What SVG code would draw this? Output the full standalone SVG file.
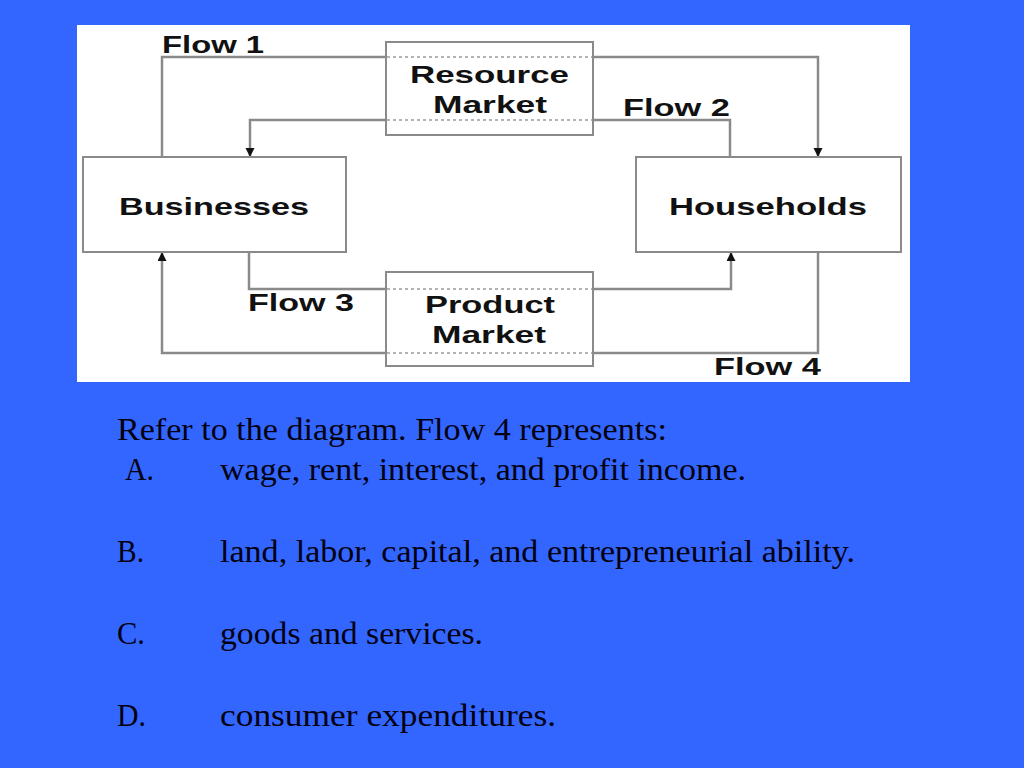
<svg xmlns="http://www.w3.org/2000/svg" width="1024" height="768" viewBox="0 0 1024 768">
<style>
.box{fill:#fff;stroke:#8a8a8a;stroke-width:2}
.dash{stroke:#9a9a9a;stroke-width:1.5;stroke-dasharray:3 3;fill:none}
.conn{fill:none;stroke:#8a8a8a;stroke-width:2.5}
.lbl{font-family:"Liberation Sans",Arial,sans-serif;font-weight:bold;font-size:24px;fill:#111}
.q{font-family:"Liberation Serif","Times New Roman",serif;font-size:32px;fill:#000010}
</style>
<defs>
<marker id="arr" markerUnits="userSpaceOnUse" markerWidth="10" markerHeight="10" refX="9" refY="4.5" orient="auto">
<path d="M0,0 L9,4.5 L0,9 z" fill="#111"/>
</marker>
</defs>
<rect x="0" y="0" width="1024" height="768" fill="#3366ff"/>
<rect x="77" y="25" width="833" height="357" fill="#fff"/>
<g id="connectors">
<path class="conn" d="M162,157 V57 H386"/>
<path class="conn" d="M593,57 H818 V157" marker-end="url(#arr)"/>
<path class="conn" d="M730,157 V120 H593"/>
<path class="conn" d="M386,120 H250 V157" marker-end="url(#arr)"/>
<path class="conn" d="M249,252 V289 H386"/>
<path class="conn" d="M593,289 H731 V252" marker-end="url(#arr)"/>
<path class="conn" d="M818,252 V353 H593"/>
<path class="conn" d="M386,353 H162 V252" marker-end="url(#arr)"/>
<text class="lbl" x="162" y="53" textLength="102" lengthAdjust="spacingAndGlyphs">Flow 1</text>
<text class="lbl" x="623" y="116" textLength="107" lengthAdjust="spacingAndGlyphs">Flow 2</text>
<text class="lbl" x="248" y="311" textLength="106" lengthAdjust="spacingAndGlyphs">Flow 3</text>
<text class="lbl" x="714" y="375" textLength="107" lengthAdjust="spacingAndGlyphs">Flow 4</text>
</g>
<g id="resource-market">
<rect class="box" x="386" y="42" width="207" height="93"/>
<line class="dash" x1="387" y1="57" x2="592" y2="57"/>
<line class="dash" x1="387" y1="120" x2="592" y2="120"/>
<text class="lbl" x="410" y="83" textLength="159" lengthAdjust="spacingAndGlyphs">Resource</text>
<text class="lbl" x="433" y="113" textLength="114" lengthAdjust="spacingAndGlyphs">Market</text>
</g>
<g id="businesses">
<rect class="box" x="83" y="157" width="263" height="95"/>
<text class="lbl" x="119" y="215" textLength="190" lengthAdjust="spacingAndGlyphs">Businesses</text>
</g>
<g id="households">
<rect class="box" x="636" y="157" width="265" height="95"/>
<text class="lbl" x="669" y="215" textLength="198" lengthAdjust="spacingAndGlyphs">Households</text>
</g>
<g id="product-market">
<rect class="box" x="386" y="272" width="207" height="94"/>
<line class="dash" x1="387" y1="289" x2="592" y2="289"/>
<line class="dash" x1="387" y1="353" x2="592" y2="353"/>
<text class="lbl" x="425" y="313" textLength="130" lengthAdjust="spacingAndGlyphs">Product</text>
<text class="lbl" x="432" y="343" textLength="114" lengthAdjust="spacingAndGlyphs">Market</text>
</g>
<g id="question">
<text class="q" x="117" y="440" textLength="550" lengthAdjust="spacingAndGlyphs">Refer to the diagram. Flow 4 represents:</text>
<text class="q" x="125" y="480" textLength="29" lengthAdjust="spacingAndGlyphs">A.</text>
<text class="q" x="220" y="480" textLength="526" lengthAdjust="spacingAndGlyphs">wage, rent, interest, and profit income.</text>
<text class="q" x="117" y="562" textLength="27" lengthAdjust="spacingAndGlyphs">B.</text>
<text class="q" x="220" y="562" textLength="635" lengthAdjust="spacingAndGlyphs">land, labor, capital, and entrepreneurial ability.</text>
<text class="q" x="117" y="644" textLength="28" lengthAdjust="spacingAndGlyphs">C.</text>
<text class="q" x="220" y="644" textLength="263" lengthAdjust="spacingAndGlyphs">goods and services.</text>
<text class="q" x="117" y="726" textLength="29" lengthAdjust="spacingAndGlyphs">D.</text>
<text class="q" x="220" y="726" textLength="336" lengthAdjust="spacingAndGlyphs">consumer expenditures.</text>
</g>
</svg>
